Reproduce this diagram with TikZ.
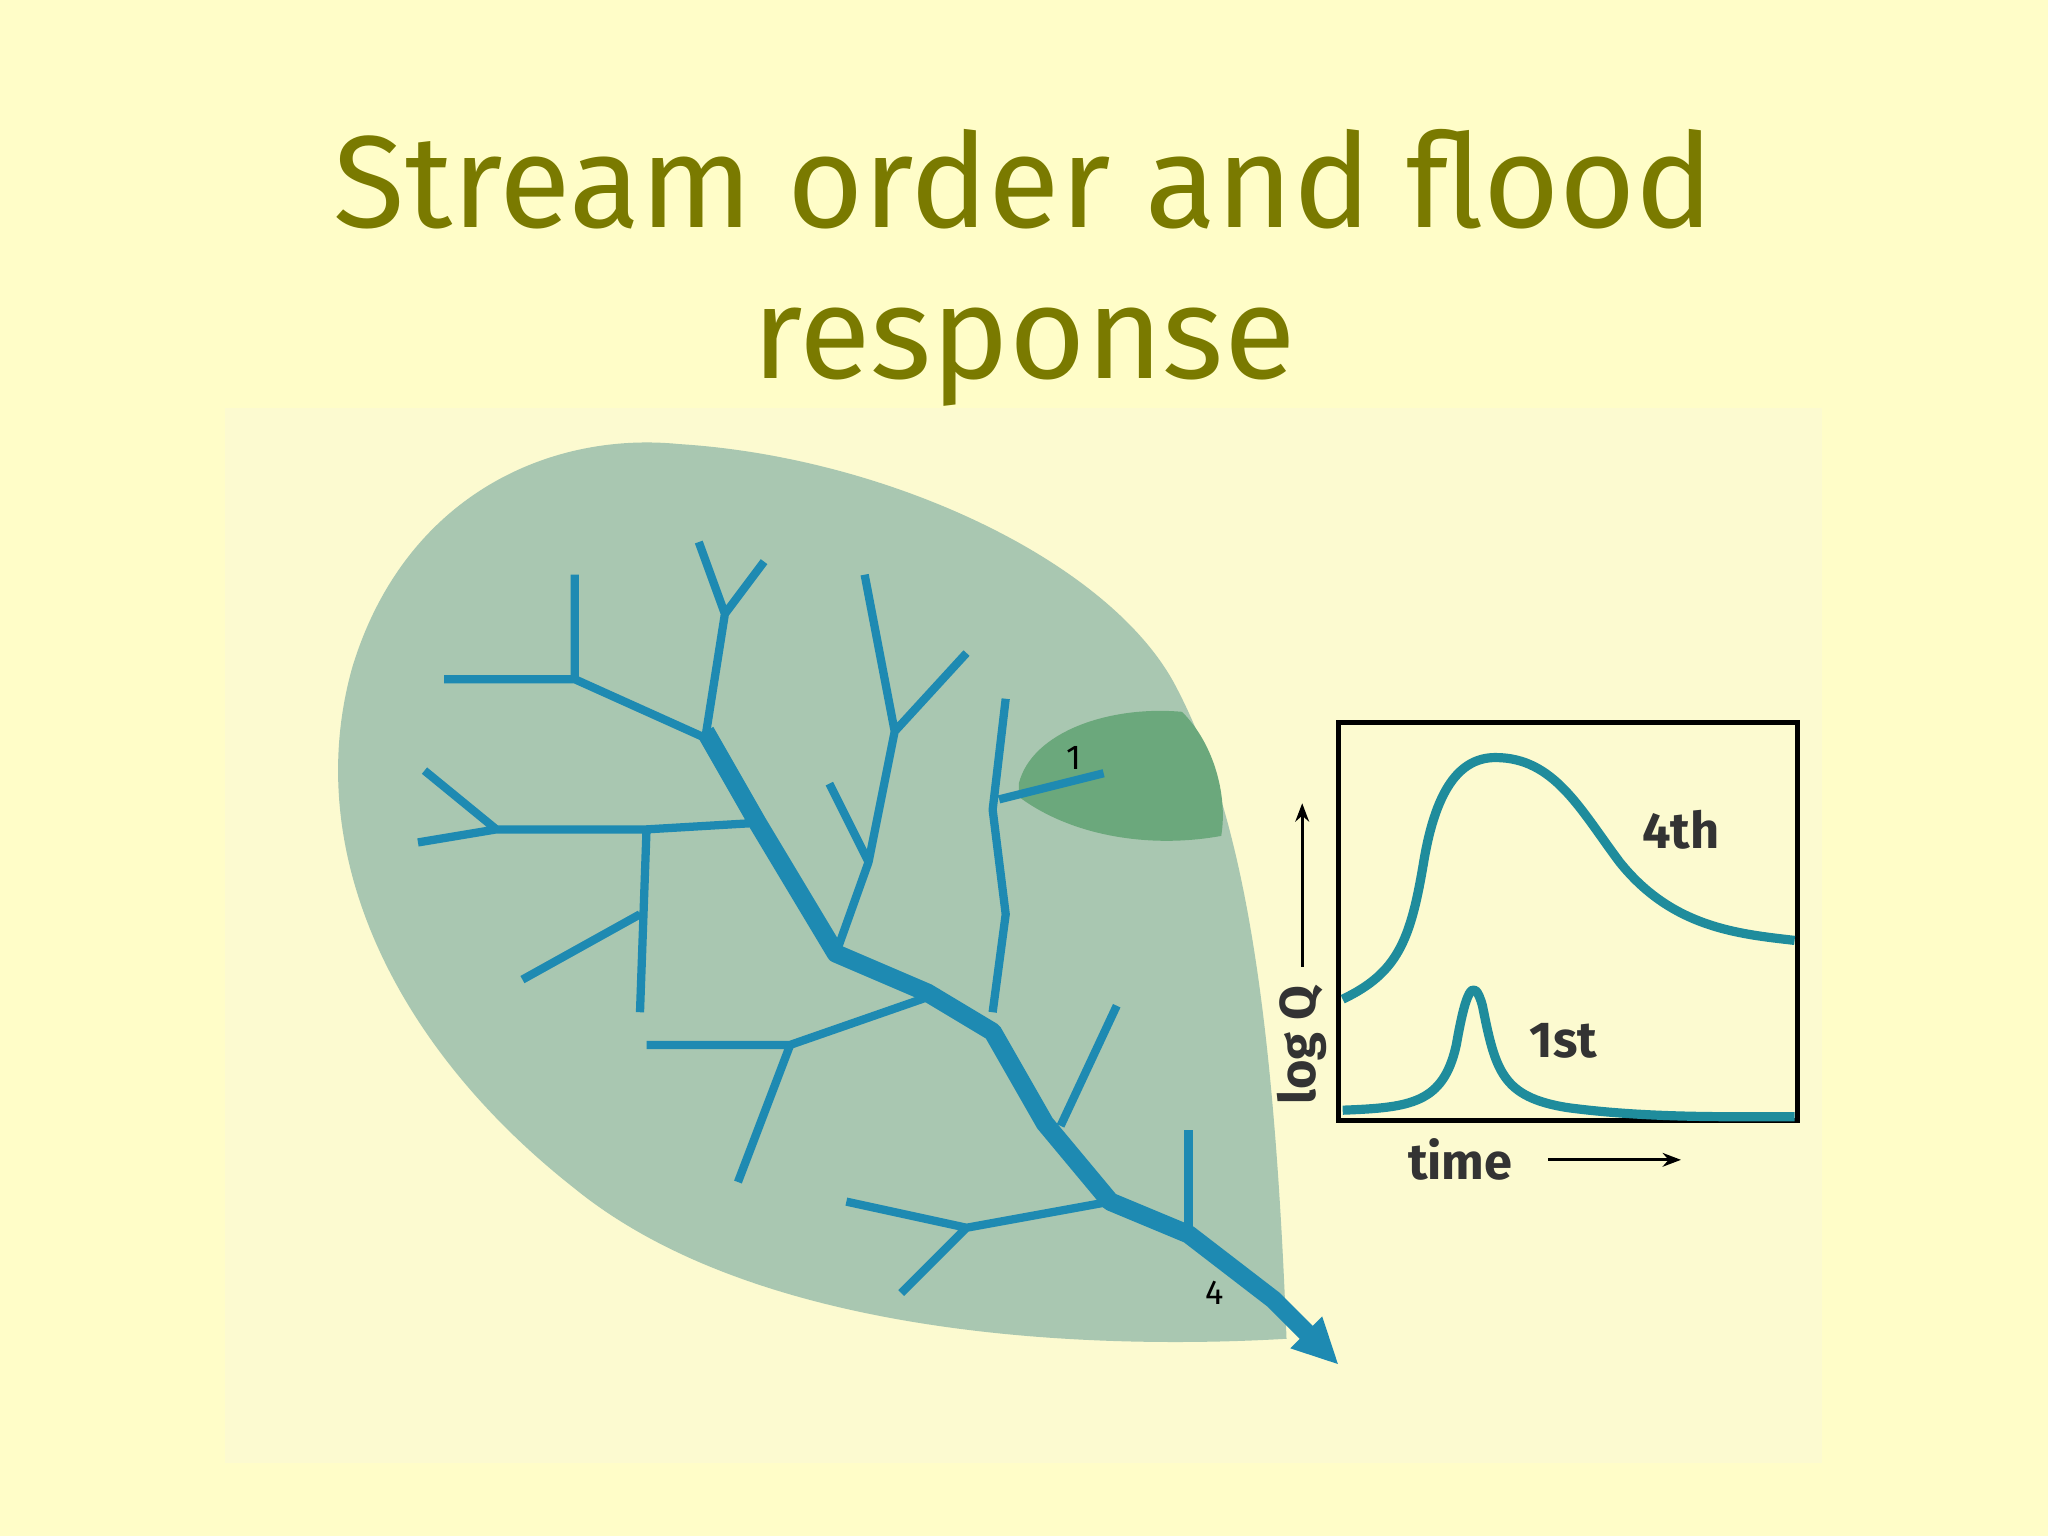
\documentclass[tikz,border=0pt]{standalone}
\usepackage{fontspec}
\setmainfont{Fira Sans}
\usetikzlibrary{arrows.meta}
\definecolor{bg}{HTML}{FFFDC8}
\definecolor{panel}{HTML}{FCFAD0}
\definecolor{olive}{HTML}{7A7A00}
\definecolor{leaf}{HTML}{A9C7B1}
\definecolor{sub}{HTML}{6BA87C}
\definecolor{river}{HTML}{1E8AB2}
\definecolor{curve}{HTML}{1F8C9C}
\tikzset{trib/.style={river,line width=1.8pt,line join=round},
 trunk/.style={river,line width=4pt,line join=round},
 crv/.style={curve,line width=2pt,line join=round},
 lbl/.style={font=\fontsize{11}{11}\selectfont\bfseries,text=black!80}}
\begin{document}
\begin{tikzpicture}[x=0.01cm,y=-0.01cm]
\fill[bg] (0,0) rectangle (1568,1176);
\useasboundingbox (0,0) rectangle (1568,1176);
\fill[panel] (172,312) rectangle (1395,1120);
\node[olive,align=center,font=\fontsize{28.5}{33}\selectfont] (title) at (784,205) {Stream order and flood\\response};
\fill[leaf] (985,1025) .. controls (900,1030) and (600,1040) .. (440,910)
 .. controls (300,800) and (230,650) .. (270,510)
 .. controls (310,380) and (420,330) .. (520,340)
 .. controls (680,350) and (850,430) .. (900,525)
 .. controls (950,620) and (975,760) .. (985,1025) -- cycle;
\fill[sub] (780,600) .. controls (790,560) and (850,540) .. (905,545)
 .. controls (930,570) and (940,610) .. (935,640)
 .. controls (880,650) and (820,640) .. (780,610) -- cycle;
% tributaries
\draw[trib] (440,440)--(440,520) (340,520)--(440,520)--(540,565) (540,565)--(555,470)--(535,415) (555,470)--(585,430);
\draw[trib] (580,630)--(495,635)--(380,635)--(325,590) (320,645)--(380,635) (495,635)--(490,775) (490,700)--(400,750);
\draw[trib] (640,730)--(665,660)--(635,600) (665,660)--(685,560)--(740,500) (685,560)--(662,440);
\draw[trib] (760,775)--(770,700)--(760,620)--(770,535) (765,612)--(845,592);
\draw[trib] (720,760)--(605,800)--(495,800) (605,800)--(565,905);
\draw[trib] (812,862)--(855,770);
\draw[trib] (850,920)--(740,940)--(648,920) (740,940)--(690,990);
\draw[trib] (910,945)--(910,865);
\draw[trunk,-{Triangle[length=10pt,width=9pt]}] (540,560)--(580,630)--(640,730)--(710,760)--(760,790)--(800,860)--(850,920)--(910,945)--(975,995)--(1025,1045);
\node[font=\fontsize{7.5}{7.5}\selectfont\rmfamily] (n1) at (822,580) {1};
\node[font=\fontsize{7.5}{7.5}\selectfont\rmfamily] (n4) at (930,990) {4};
% graph
\draw[line width=1pt] (1025,553) rectangle (1376,858);
\draw[crv] (1028,765) .. controls (1070,745) and (1080,720) .. (1090,660)
 .. controls (1100,600) and (1120,580) .. (1145,580)
 .. controls (1190,580) and (1210,620) .. (1240,660)
 .. controls (1280,710) and (1330,715) .. (1374,720);
\draw[crv] (1028,850) .. controls (1080,848) and (1105,845) .. (1115,800)
 .. controls (1122,760) and (1128,745) .. (1135,770)
 .. controls (1145,820) and (1150,840) .. (1200,848)
 .. controls (1260,856) and (1320,855) .. (1374,855);
\node[lbl] (t4) at (1287,635) {4th};
\node[lbl] (t1) at (1197,797) {1st};
\node[lbl,rotate=90] (lq) at (997,800) {log Q};
\coordinate (ua) at (997,740); \coordinate (ub) at (997,615);
\draw[line width=0.6pt,-{Stealth[length=4pt]}] (ua)--(ub);
\node[lbl] (tm) at (1118,888) {time};
\coordinate (ta) at (1185,888); \coordinate (tb) at (1287,888);
\draw[line width=0.6pt,-{Stealth[length=4pt]}] (ta)--(tb);
\end{tikzpicture}
\end{document}
